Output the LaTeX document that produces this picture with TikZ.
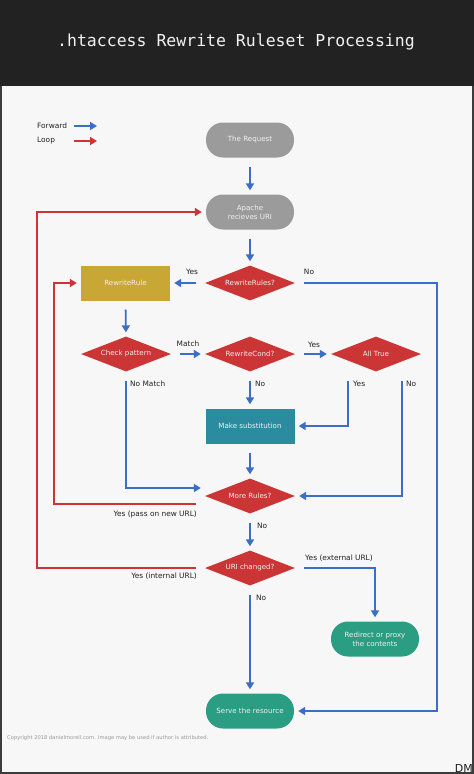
\documentclass[tikz,border=0pt]{standalone}
\usepackage{fontspec}
\setmainfont{DejaVu Sans}
\newfontfamily\titlefont{DejaVu Sans Mono}
\usetikzlibrary{shapes.geometric, arrows.meta, calc}

\definecolor{framegray}{HTML}{3C3C3C}
\definecolor{headgray}{HTML}{222222}
\definecolor{panelgray}{HTML}{F7F7F7}
\definecolor{pillgray}{HTML}{9B9B9B}
\definecolor{decisionred}{HTML}{CC3535}
\definecolor{rulegold}{HTML}{C9A735}
\definecolor{substteal}{HTML}{2B8CA0}
\definecolor{endgreen}{HTML}{2A9D82}
\definecolor{fwdblue}{HTML}{3B6EC6}
\definecolor{loopred}{HTML}{CC3535}
\definecolor{labeltext}{HTML}{222222}
\definecolor{copygray}{HTML}{999999}

\tikzset{
  nodetext/.style={text=white!94!black, align=center, font=\fontsize{7.1}{9}\selectfont, inner sep=0pt},
  pill/.style={nodetext, rectangle, rounded corners=17pt, minimum width=88pt, minimum height=35pt},
  block/.style={nodetext, rectangle, minimum width=89pt, minimum height=35pt},
  decision/.style={nodetext, diamond, aspect=2.5, minimum width=90pt, minimum height=35pt, fill=decisionred},
  lbl/.style={font=\fontsize{7.4}{9}\selectfont, text=labeltext, inner sep=1pt},
  fwd/.style={draw=fwdblue, line width=1.8pt, -{Triangle[length=7pt, width=8pt]}, shorten <=9pt, shorten >=4pt},
  loopline/.style={draw=loopred, line width=1.8pt, -{Triangle[length=7pt, width=8pt]}, shorten <=9pt, shorten >=4pt}
}

\begin{document}
\begin{tikzpicture}[x=1pt, y=-1pt]
    \useasboundingbox (0,0) rectangle (474,774);
    % background and header
    \fill[framegray] (0,0) rectangle (474,774);
    \fill[headgray] (0,0) rectangle (474,86);
    \fill[panelgray] (2,86) rectangle (472,772);
    \node[font=\titlefont\fontsize{16.5}{18}\selectfont, text=white!95!black] (title) at (236,42) {.htaccess Rewrite Ruleset Processing};

    % legend
    \node[lbl, anchor=west] (legfwd) at (36,126) {Forward};
    \node[lbl, anchor=west] (legloop) at (36,141) {Loop};
    \coordinate (fwdA) at (74,126);
    \coordinate (fwdB) at (97,126);
    \coordinate (loopA) at (74,141);
    \coordinate (loopB) at (97,141);
    \draw[fwd, shorten <=0pt, shorten >=0pt] (fwdA) -- (fwdB);
    \draw[loopline, shorten <=0pt, shorten >=0pt] (loopA) -- (loopB);

    % nodes
    \node[pill, fill=pillgray] (request) at (250,140) {The Request};
    \node[pill, fill=pillgray] (apache) at (250,212) {Apache\\recieves URI};
    \node[decision] (rules) at (250,283) {RewriteRules?};
    \node[block, fill=rulegold] (rewrite) at (125.5,283) {RewriteRule};
    \node[decision] (check) at (126,354) {Check pattern};
    \node[decision] (cond) at (250,354) {RewriteCond?};
    \node[decision] (alltrue) at (376,354) {All True};
    \node[block, fill=substteal] (subst) at (250,426) {Make substitution};
    \node[decision] (more) at (250,496) {More Rules?};
    \node[decision] (changed) at (250,568) {URI changed?};
    \node[pill, fill=endgreen] (redirect) at (375,639) {Redirect or proxy\\the contents};
    \node[pill, fill=endgreen] (serve) at (250,711) {Serve the resource};

    % forward connectors
    \draw[fwd] (request) -- (apache);
    \draw[fwd] (apache) -- (rules);
    \draw[fwd] (rules.west) -- (rewrite.east);
    \draw[fwd] (rules.east) -- ++(142,0) |- (serve.east);
    \draw[fwd] (rewrite.south) -- (check.north);
    \draw[fwd] (check.east) -- (cond.west);
    \draw[fwd] (cond.east) -- (alltrue.west);
    \draw[fwd] (check.south) |- ([yshift=8pt]more.west);
    \draw[fwd] (cond.south) -- (subst.north);
    \draw[fwd] ([xshift=-28pt]alltrue.south) |- (subst.east);
    \draw[fwd] ([xshift=26pt]alltrue.south) |- (more.east);
    \draw[fwd] (subst.south) -- (more.north);
    \draw[fwd] (more.south) -- (changed.north);
    \draw[fwd] (changed.east) -| (redirect.north);
    \draw[fwd] (changed.south) -- (serve.north);

    % loop connectors
    \draw[loopline] ([yshift=-8pt]more.west) -- ++(-151,0) |- (rewrite.west);
    \draw[loopline] (changed.west) -- ++(-168,0) |- (apache.west);

    % labels
    \node[lbl] (yesrules) at (192,272) {Yes};
    \node[lbl] (norules) at (309,272) {No};
    \node[lbl] (match) at (188,344) {Match};
    \node[lbl] (yescond) at (314,345) {Yes};
    \node[lbl, anchor=west] (nomatch) at (129,384) {No Match};
    \node[lbl, anchor=west] (nocond) at (254,384) {No};
    \node[lbl, anchor=west] (yesall) at (352,384) {Yes};
    \node[lbl, anchor=west] (noall) at (405,384) {No};
    \node[lbl, anchor=east] (yespass) at (198,514) {Yes (pass on new URL)};
    \node[lbl, anchor=west] (nomore) at (256,526) {No};
    \node[lbl, anchor=west] (yesext) at (304,558) {Yes (external URL)};
    \node[lbl, anchor=east] (yesint) at (198,576) {Yes (internal URL)};
    \node[lbl, anchor=west] (nochanged) at (255,598) {No};

    % footer
    \node[anchor=west, font=\fontsize{5.2}{6}\selectfont, text=copygray, inner sep=0pt] (copyright) at (7,738) {Copyright 2018 danielmorell.com. Image may be used if author is attributed.};
    \node[anchor=south east, font=\fontsize{11}{11}\selectfont, text=headgray, inner sep=0pt] (logo) at (473,773) {DM};
\end{tikzpicture}
\end{document}
